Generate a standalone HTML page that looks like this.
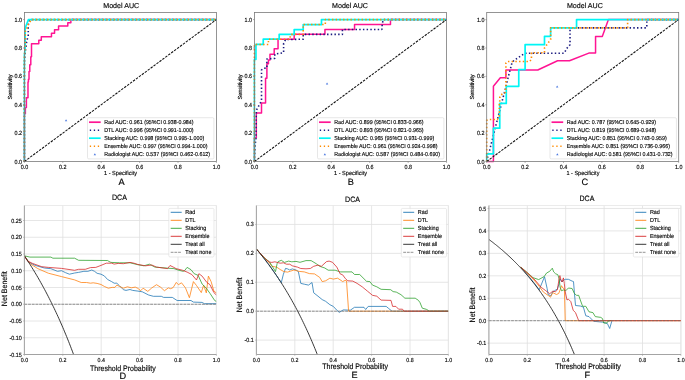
<!DOCTYPE html><html><head><meta charset="utf-8"><style>html,body{margin:0;padding:0;background:#fff;}svg{display:block;will-change:transform;}text{text-rendering:geometricPrecision;font-family:"Liberation Sans", sans-serif;stroke:#000;}</style></head><body>
<svg width="685" height="380" viewBox="0 0 685 380">
<rect width="685" height="380" fill="#fff"/>
<g>
<clipPath id="cA"><rect x="22.9" y="12.5" width="193.5" height="150.5"/></clipPath>
<g clip-path="url(#cA)">
<path d="M24.4,161.5 L24.4,113.82 L25.36,113.82 L25.36,107.58 L26.4,107.58 L26.4,97.64 L27.99,97.64 L27.99,82.04 L28.43,82.04 L28.43,79.2 L29.01,79.2 L29.01,71.54 L29.78,71.54 L29.78,64.72 L30.79,64.72 L30.79,56.78 L31.5,56.78 L31.5,43.72 L38.8,43.72 L38.8,40.18 L41.3,40.18 L41.3,36.63 L51.47,36.63 L51.47,33.36 L54.54,33.36 L54.54,29.67 L58.58,29.67 L58.58,25.99 L67.79,25.99 L67.79,22.86 L70.86,22.86 L70.86,19.6 L216.4,19.6" fill="none" stroke="#ff1493" stroke-width="1.5" stroke-linejoin="round" />
<path d="M24.4,161.5 L24.4,62.17 L24.98,55.07 L25.55,49.54 L26.13,45.85 L26.51,42.59 L27.28,39.18 L28.24,36.34 L28.24,25.28 L29.01,21.02 L29.39,19.6 L216.4,19.6" fill="none" stroke="#1c1c80" stroke-width="1.6" stroke-linejoin="round" stroke-dasharray="1.45 2.25"/>
<path d="M24.4,161.5 L24.4,55.07 L25.17,47.98 L25.17,29.53 L25.94,25.99 L28.43,19.6 L216.4,19.6" fill="none" stroke="#00f5f5" stroke-width="1.7" stroke-linejoin="round" />
<path d="M24.4,161.5 L24.4,55.07 L25.17,47.98 L25.3,31.38 L26.9,28.11 L28.24,24.57 L29.97,21.73 L31.6,19.6 L216.4,19.6" fill="none" stroke="#ff8c00" stroke-width="1.6" stroke-linejoin="round" stroke-dasharray="1.45 2.25"/>
</g>
<line x1="24.4" y1="161.5" x2="216.4" y2="19.6" stroke="#111" stroke-width="1.05" stroke-dasharray="2.5 1.15"/>
<rect x="24.4" y="12.5" width="192" height="149" fill="none" stroke="#7a7a7a" stroke-width="0.8"/>
<path d="M66.06,119.29 l1.2,2 l-2.4,0 z" fill="#4a78e0"/>
<line x1="24.4" y1="161.5" x2="24.4" y2="162.9" stroke="#7a7a7a" stroke-width="0.6"/>
<line x1="23" y1="161.5" x2="24.4" y2="161.5" stroke="#7a7a7a" stroke-width="0.6"/>
<text x="0" y="0" font-size="5.94" text-anchor="middle" fill="#000" stroke-width="0.13" transform="translate(24.4,168.5) scale(0.9091,1)" >0.0</text>
<text x="0" y="0" font-size="5.94" text-anchor="end" fill="#000" stroke-width="0.13" transform="translate(22.1,163.55) scale(0.9091,1)" >0.0</text>
<line x1="62.8" y1="161.5" x2="62.8" y2="162.9" stroke="#7a7a7a" stroke-width="0.6"/>
<line x1="23" y1="133.12" x2="24.4" y2="133.12" stroke="#7a7a7a" stroke-width="0.6"/>
<text x="0" y="0" font-size="5.94" text-anchor="middle" fill="#000" stroke-width="0.13" transform="translate(62.8,168.5) scale(0.9091,1)" >0.2</text>
<text x="0" y="0" font-size="5.94" text-anchor="end" fill="#000" stroke-width="0.13" transform="translate(22.1,135.17) scale(0.9091,1)" >0.2</text>
<line x1="101.2" y1="161.5" x2="101.2" y2="162.9" stroke="#7a7a7a" stroke-width="0.6"/>
<line x1="23" y1="104.74" x2="24.4" y2="104.74" stroke="#7a7a7a" stroke-width="0.6"/>
<text x="0" y="0" font-size="5.94" text-anchor="middle" fill="#000" stroke-width="0.13" transform="translate(101.2,168.5) scale(0.9091,1)" >0.4</text>
<text x="0" y="0" font-size="5.94" text-anchor="end" fill="#000" stroke-width="0.13" transform="translate(22.1,106.79) scale(0.9091,1)" >0.4</text>
<line x1="139.6" y1="161.5" x2="139.6" y2="162.9" stroke="#7a7a7a" stroke-width="0.6"/>
<line x1="23" y1="76.36" x2="24.4" y2="76.36" stroke="#7a7a7a" stroke-width="0.6"/>
<text x="0" y="0" font-size="5.94" text-anchor="middle" fill="#000" stroke-width="0.13" transform="translate(139.6,168.5) scale(0.9091,1)" >0.6</text>
<text x="0" y="0" font-size="5.94" text-anchor="end" fill="#000" stroke-width="0.13" transform="translate(22.1,78.41) scale(0.9091,1)" >0.6</text>
<line x1="178" y1="161.5" x2="178" y2="162.9" stroke="#7a7a7a" stroke-width="0.6"/>
<line x1="23" y1="47.98" x2="24.4" y2="47.98" stroke="#7a7a7a" stroke-width="0.6"/>
<text x="0" y="0" font-size="5.94" text-anchor="middle" fill="#000" stroke-width="0.13" transform="translate(178,168.5) scale(0.9091,1)" >0.8</text>
<text x="0" y="0" font-size="5.94" text-anchor="end" fill="#000" stroke-width="0.13" transform="translate(22.1,50.03) scale(0.9091,1)" >0.8</text>
<line x1="216.4" y1="161.5" x2="216.4" y2="162.9" stroke="#7a7a7a" stroke-width="0.6"/>
<line x1="23" y1="19.6" x2="24.4" y2="19.6" stroke="#7a7a7a" stroke-width="0.6"/>
<text x="0" y="0" font-size="5.94" text-anchor="middle" fill="#000" stroke-width="0.13" transform="translate(216.4,168.5) scale(0.9091,1)" >1.0</text>
<text x="0" y="0" font-size="5.94" text-anchor="end" fill="#000" stroke-width="0.13" transform="translate(22.1,21.65) scale(0.9091,1)" >1.0</text>
<text x="0" y="0" font-size="7.1" text-anchor="middle" fill="#000" stroke-width="0.14" transform="translate(121.2,7.95)" >Model AUC</text>
<text x="0" y="0" font-size="5.83" text-anchor="middle" fill="#000" stroke-width="0.13" transform="translate(120.6,175.4) scale(0.9524,1)" >1 - Specificity</text>
<text x="0" y="0" font-size="5.88" text-anchor="middle" fill="#000" stroke-width="0.13" transform="translate(11.9,87) rotate(-90) scale(0.9524,1)" >Sensitivity</text>
<text x="0" y="0" font-size="9.2" text-anchor="middle" fill="#000" stroke-width="0.14" transform="translate(121.5,184.7)" >A</text>
<rect x="87.5" y="117.7" width="126.4" height="41.2" rx="1.2" fill="#fff" fill-opacity="0.85" stroke="#d6d6d6" stroke-width="0.6"/>
<line x1="89" y1="122.2" x2="100.7" y2="122.2" stroke="#ff1493" stroke-width="1.7"/>
<text x="0" y="0" font-size="5.65" text-anchor="start" fill="#000" stroke-width="0.13" transform="translate(104.2,124.2) scale(0.9434,1)" >Rad AUC: 0.961 (95%CI 0.938-0.984)</text>
<line x1="89" y1="130.2" x2="100.7" y2="130.2" stroke="#1c1c80" stroke-width="1.6" stroke-dasharray="1.3 2.7" stroke-dashoffset="-0.8"/>
<text x="0" y="0" font-size="5.65" text-anchor="start" fill="#000" stroke-width="0.13" transform="translate(104.2,132.2) scale(0.9434,1)" >DTL AUC: 0.996 (95%CI 0.991-1.000)</text>
<line x1="89" y1="138.2" x2="100.7" y2="138.2" stroke="#00f5f5" stroke-width="1.7"/>
<text x="0" y="0" font-size="5.65" text-anchor="start" fill="#000" stroke-width="0.13" transform="translate(104.2,140.2) scale(0.9434,1)" >Stacking AUC: 0.998 (95%CI 0.995-1.000)</text>
<line x1="89" y1="146.2" x2="100.7" y2="146.2" stroke="#ff8c00" stroke-width="1.6" stroke-dasharray="1.3 2.7" stroke-dashoffset="-0.8"/>
<text x="0" y="0" font-size="5.65" text-anchor="start" fill="#000" stroke-width="0.13" transform="translate(104.2,148.2) scale(0.9434,1)" >Ensemble AUC: 0.997 (95%CI 0.994-1.000)</text>
<path d="M94.85,153.2 l1.2,2 l-2.4,0 z" fill="#4a78e0"/>
<text x="0" y="0" font-size="5.65" text-anchor="start" fill="#000" stroke-width="0.13" transform="translate(104.2,156.2) scale(0.9434,1)" >Radiologist AUC: 0.537 (95%CI 0.462-0.612)</text>
</g>
<g>
<clipPath id="cB"><rect x="252.9" y="12.5" width="193.7" height="150.5"/></clipPath>
<g clip-path="url(#cB)">
<path d="M254.4,161.5 L254.4,137.8 L256.32,137.8 L256.32,112.97 L261.51,112.97 L261.51,102.9 L265.55,102.9 L265.55,78.35 L266.89,78.35 L266.89,63.73 L268.43,63.73 L268.43,60.04 L269.97,60.04 L269.97,54.22 L274.2,54.22 L274.2,48.83 L278.04,48.83 L278.04,39.18 L294.19,39.18 L294.19,34.36 L324.94,34.36 L324.94,29.53 L354.54,29.53 L354.54,24.57 L390.48,24.57 L390.48,19.6 L446.6,19.6" fill="none" stroke="#ff1493" stroke-width="1.5" stroke-linejoin="round" />
<path d="M254.4,161.5 L254.98,147.31 L255.94,137.8 L256.32,110.27 L261.51,100.77 L261.51,69.97 L263.24,68.41 L266.89,67.99 L266.89,59.05 L274.77,58.34 L274.77,54.22 L283.61,52.66 L283.61,43.58 L285.54,39.61 L303.22,39.18 L303.22,34.36 L342.43,34.36 L342.43,29.53 L381.83,29.53 L382.21,24.57 L383.17,19.6 L446.6,19.6" fill="none" stroke="#1c1c80" stroke-width="1.6" stroke-linejoin="round" stroke-dasharray="1.45 2.25"/>
<path d="M254.4,161.5 L254.4,59.33 L255.94,59.33 L255.94,44.43 L263.24,44.43 L263.24,39.18 L279.19,39.18 L279.19,34.36 L294.19,34.36 L294.19,29.53 L303.22,29.53 L303.22,24.57 L321.48,24.57 L321.48,19.6 L446.6,19.6" fill="none" stroke="#00f5f5" stroke-width="1.7" stroke-linejoin="round" />
<path d="M254.4,161.5 L254.4,44.43 L268.43,44.43 L268.43,39.18 L289.57,39.18 L290.92,34.36 L303.22,34.36 L303.22,24.57 L325.32,24.57 L325.32,19.6 L446.6,19.6" fill="none" stroke="#ff8c00" stroke-width="1.6" stroke-linejoin="round" stroke-dasharray="1.45 2.25"/>
</g>
<line x1="254.4" y1="161.5" x2="446.6" y2="19.6" stroke="#111" stroke-width="1.05" stroke-dasharray="2.5 1.15"/>
<rect x="254.4" y="12.5" width="192.2" height="149" fill="none" stroke="#7a7a7a" stroke-width="0.8"/>
<path d="M327.05,82.4 l1.2,2 l-2.4,0 z" fill="#4a78e0"/>
<line x1="254.4" y1="161.5" x2="254.4" y2="162.9" stroke="#7a7a7a" stroke-width="0.6"/>
<line x1="253" y1="161.5" x2="254.4" y2="161.5" stroke="#7a7a7a" stroke-width="0.6"/>
<text x="0" y="0" font-size="5.94" text-anchor="middle" fill="#000" stroke-width="0.13" transform="translate(254.4,168.5) scale(0.9091,1)" >0.0</text>
<text x="0" y="0" font-size="5.94" text-anchor="end" fill="#000" stroke-width="0.13" transform="translate(252.1,163.55) scale(0.9091,1)" >0.0</text>
<line x1="292.84" y1="161.5" x2="292.84" y2="162.9" stroke="#7a7a7a" stroke-width="0.6"/>
<line x1="253" y1="133.12" x2="254.4" y2="133.12" stroke="#7a7a7a" stroke-width="0.6"/>
<text x="0" y="0" font-size="5.94" text-anchor="middle" fill="#000" stroke-width="0.13" transform="translate(292.84,168.5) scale(0.9091,1)" >0.2</text>
<text x="0" y="0" font-size="5.94" text-anchor="end" fill="#000" stroke-width="0.13" transform="translate(252.1,135.17) scale(0.9091,1)" >0.2</text>
<line x1="331.28" y1="161.5" x2="331.28" y2="162.9" stroke="#7a7a7a" stroke-width="0.6"/>
<line x1="253" y1="104.74" x2="254.4" y2="104.74" stroke="#7a7a7a" stroke-width="0.6"/>
<text x="0" y="0" font-size="5.94" text-anchor="middle" fill="#000" stroke-width="0.13" transform="translate(331.28,168.5) scale(0.9091,1)" >0.4</text>
<text x="0" y="0" font-size="5.94" text-anchor="end" fill="#000" stroke-width="0.13" transform="translate(252.1,106.79) scale(0.9091,1)" >0.4</text>
<line x1="369.72" y1="161.5" x2="369.72" y2="162.9" stroke="#7a7a7a" stroke-width="0.6"/>
<line x1="253" y1="76.36" x2="254.4" y2="76.36" stroke="#7a7a7a" stroke-width="0.6"/>
<text x="0" y="0" font-size="5.94" text-anchor="middle" fill="#000" stroke-width="0.13" transform="translate(369.72,168.5) scale(0.9091,1)" >0.6</text>
<text x="0" y="0" font-size="5.94" text-anchor="end" fill="#000" stroke-width="0.13" transform="translate(252.1,78.41) scale(0.9091,1)" >0.6</text>
<line x1="408.16" y1="161.5" x2="408.16" y2="162.9" stroke="#7a7a7a" stroke-width="0.6"/>
<line x1="253" y1="47.98" x2="254.4" y2="47.98" stroke="#7a7a7a" stroke-width="0.6"/>
<text x="0" y="0" font-size="5.94" text-anchor="middle" fill="#000" stroke-width="0.13" transform="translate(408.16,168.5) scale(0.9091,1)" >0.8</text>
<text x="0" y="0" font-size="5.94" text-anchor="end" fill="#000" stroke-width="0.13" transform="translate(252.1,50.03) scale(0.9091,1)" >0.8</text>
<line x1="446.6" y1="161.5" x2="446.6" y2="162.9" stroke="#7a7a7a" stroke-width="0.6"/>
<line x1="253" y1="19.6" x2="254.4" y2="19.6" stroke="#7a7a7a" stroke-width="0.6"/>
<text x="0" y="0" font-size="5.94" text-anchor="middle" fill="#000" stroke-width="0.13" transform="translate(446.6,168.5) scale(0.9091,1)" >1.0</text>
<text x="0" y="0" font-size="5.94" text-anchor="end" fill="#000" stroke-width="0.13" transform="translate(252.1,21.65) scale(0.9091,1)" >1.0</text>
<text x="0" y="0" font-size="7.1" text-anchor="middle" fill="#000" stroke-width="0.14" transform="translate(350,7.95)" >Model AUC</text>
<text x="0" y="0" font-size="5.83" text-anchor="middle" fill="#000" stroke-width="0.13" transform="translate(350.6,175.4) scale(0.9524,1)" >1 - Specificity</text>
<text x="0" y="0" font-size="5.88" text-anchor="middle" fill="#000" stroke-width="0.13" transform="translate(241.9,87) rotate(-90) scale(0.9524,1)" >Sensitivity</text>
<text x="0" y="0" font-size="9.2" text-anchor="middle" fill="#000" stroke-width="0.14" transform="translate(350.7,184.7)" >B</text>
<rect x="317.5" y="117.7" width="126.4" height="41.2" rx="1.2" fill="#fff" fill-opacity="0.85" stroke="#d6d6d6" stroke-width="0.6"/>
<line x1="319" y1="122.2" x2="330.7" y2="122.2" stroke="#ff1493" stroke-width="1.7"/>
<text x="0" y="0" font-size="5.65" text-anchor="start" fill="#000" stroke-width="0.13" transform="translate(334.2,124.2) scale(0.9434,1)" >Rad AUC: 0.899 (95%CI 0.833-0.966)</text>
<line x1="319" y1="130.2" x2="330.7" y2="130.2" stroke="#1c1c80" stroke-width="1.6" stroke-dasharray="1.3 2.7" stroke-dashoffset="-0.8"/>
<text x="0" y="0" font-size="5.65" text-anchor="start" fill="#000" stroke-width="0.13" transform="translate(334.2,132.2) scale(0.9434,1)" >DTL AUC: 0.893 (95%CI 0.821-0.965)</text>
<line x1="319" y1="138.2" x2="330.7" y2="138.2" stroke="#00f5f5" stroke-width="1.7"/>
<text x="0" y="0" font-size="5.65" text-anchor="start" fill="#000" stroke-width="0.13" transform="translate(334.2,140.2) scale(0.9434,1)" >Stacking AUC: 0.965 (95%CI 0.931-0.999)</text>
<line x1="319" y1="146.2" x2="330.7" y2="146.2" stroke="#ff8c00" stroke-width="1.6" stroke-dasharray="1.3 2.7" stroke-dashoffset="-0.8"/>
<text x="0" y="0" font-size="5.65" text-anchor="start" fill="#000" stroke-width="0.13" transform="translate(334.2,148.2) scale(0.9434,1)" >Ensemble AUC: 0.961 (95%CI 0.924-0.998)</text>
<path d="M324.85,153.2 l1.2,2 l-2.4,0 z" fill="#4a78e0"/>
<text x="0" y="0" font-size="5.65" text-anchor="start" fill="#000" stroke-width="0.13" transform="translate(334.2,156.2) scale(0.9434,1)" >Radiologist AUC: 0.587 (95%CI 0.484-0.690)</text>
</g>
<g>
<clipPath id="cC"><rect x="485.2" y="12.5" width="193.5" height="150.5"/></clipPath>
<g clip-path="url(#cC)">
<path d="M486.7,161.5 L493.42,161.5 L493.42,86.29 L500.33,77.78 L505.9,77.78 L505.9,69.97 L537.77,69.97 L557.55,60.75 L569.45,60.75 L588.84,53.09 L595.56,53.09 L595.56,36.49 L602.28,36.49 L608.43,19.6 L678.7,19.6" fill="none" stroke="#ff1493" stroke-width="1.5" stroke-linejoin="round" />
<path d="M486.7,161.5 L487.47,157.95 L489.58,150.43 L492.27,139.65 L496.68,122.34 L497.64,118.65 L500.33,108.15 L503.02,97.64 L504.94,90.83 L508.4,76.36 L510.32,69.26 L512.04,62.45 L514.73,59.76 L518,57.91 L520.68,55.93 L523.76,53.94 L525.1,53.23 L564.08,53.23 L567.53,47.41 L570.03,44.72 L570.03,27.83 L646.83,27.83 L646.83,19.6 L678.7,19.6" fill="none" stroke="#1c1c80" stroke-width="1.6" stroke-linejoin="round" stroke-dasharray="1.45 2.25"/>
<path d="M486.7,161.5 L486.7,153.84 L493.42,153.84 L493.42,128.15 L499.76,128.15 L499.76,103.46 L506.28,103.46 L506.28,86.29 L518.76,86.29 L518.76,69.55 L525.1,69.55 L525.1,44.72 L544.49,44.72 L544.49,36.34 L550.64,36.34 L550.64,27.83 L576.56,27.83 L576.56,19.6 L678.7,19.6" fill="none" stroke="#00f5f5" stroke-width="1.7" stroke-linejoin="round" />
<path d="M486.7,161.5 L486.7,120.35 L489.2,119.5 L497.26,119.5 L499.3,116.52 L499.3,104.03 L499.76,100.77 L499.76,97.64 L500.72,94.95 L505.52,92.39 L505.9,85.44 L505.9,63.02 L507.63,61.46 L529.71,61.46 L531.44,59.33 L531.44,52.8 L544.49,52.8 L544.49,47.98 L550.64,39.47 L550.64,27.83 L627.63,27.83 L627.63,19.6 L678.7,19.6" fill="none" stroke="#ff8c00" stroke-width="1.6" stroke-linejoin="round" stroke-dasharray="1.45 2.25"/>
</g>
<line x1="486.7" y1="161.5" x2="678.7" y2="19.6" stroke="#111" stroke-width="1.05" stroke-dasharray="2.5 1.15"/>
<rect x="486.7" y="12.5" width="192" height="149" fill="none" stroke="#7a7a7a" stroke-width="0.8"/>
<path d="M557.16,85.52 l1.2,2 l-2.4,0 z" fill="#4a78e0"/>
<line x1="486.7" y1="161.5" x2="486.7" y2="162.9" stroke="#7a7a7a" stroke-width="0.6"/>
<line x1="485.3" y1="161.5" x2="486.7" y2="161.5" stroke="#7a7a7a" stroke-width="0.6"/>
<text x="0" y="0" font-size="5.94" text-anchor="middle" fill="#000" stroke-width="0.13" transform="translate(486.7,168.5) scale(0.9091,1)" >0.0</text>
<text x="0" y="0" font-size="5.94" text-anchor="end" fill="#000" stroke-width="0.13" transform="translate(484.4,163.55) scale(0.9091,1)" >0.0</text>
<line x1="525.1" y1="161.5" x2="525.1" y2="162.9" stroke="#7a7a7a" stroke-width="0.6"/>
<line x1="485.3" y1="133.12" x2="486.7" y2="133.12" stroke="#7a7a7a" stroke-width="0.6"/>
<text x="0" y="0" font-size="5.94" text-anchor="middle" fill="#000" stroke-width="0.13" transform="translate(525.1,168.5) scale(0.9091,1)" >0.2</text>
<text x="0" y="0" font-size="5.94" text-anchor="end" fill="#000" stroke-width="0.13" transform="translate(484.4,135.17) scale(0.9091,1)" >0.2</text>
<line x1="563.5" y1="161.5" x2="563.5" y2="162.9" stroke="#7a7a7a" stroke-width="0.6"/>
<line x1="485.3" y1="104.74" x2="486.7" y2="104.74" stroke="#7a7a7a" stroke-width="0.6"/>
<text x="0" y="0" font-size="5.94" text-anchor="middle" fill="#000" stroke-width="0.13" transform="translate(563.5,168.5) scale(0.9091,1)" >0.4</text>
<text x="0" y="0" font-size="5.94" text-anchor="end" fill="#000" stroke-width="0.13" transform="translate(484.4,106.79) scale(0.9091,1)" >0.4</text>
<line x1="601.9" y1="161.5" x2="601.9" y2="162.9" stroke="#7a7a7a" stroke-width="0.6"/>
<line x1="485.3" y1="76.36" x2="486.7" y2="76.36" stroke="#7a7a7a" stroke-width="0.6"/>
<text x="0" y="0" font-size="5.94" text-anchor="middle" fill="#000" stroke-width="0.13" transform="translate(601.9,168.5) scale(0.9091,1)" >0.6</text>
<text x="0" y="0" font-size="5.94" text-anchor="end" fill="#000" stroke-width="0.13" transform="translate(484.4,78.41) scale(0.9091,1)" >0.6</text>
<line x1="640.3" y1="161.5" x2="640.3" y2="162.9" stroke="#7a7a7a" stroke-width="0.6"/>
<line x1="485.3" y1="47.98" x2="486.7" y2="47.98" stroke="#7a7a7a" stroke-width="0.6"/>
<text x="0" y="0" font-size="5.94" text-anchor="middle" fill="#000" stroke-width="0.13" transform="translate(640.3,168.5) scale(0.9091,1)" >0.8</text>
<text x="0" y="0" font-size="5.94" text-anchor="end" fill="#000" stroke-width="0.13" transform="translate(484.4,50.03) scale(0.9091,1)" >0.8</text>
<line x1="678.7" y1="161.5" x2="678.7" y2="162.9" stroke="#7a7a7a" stroke-width="0.6"/>
<line x1="485.3" y1="19.6" x2="486.7" y2="19.6" stroke="#7a7a7a" stroke-width="0.6"/>
<text x="0" y="0" font-size="5.94" text-anchor="middle" fill="#000" stroke-width="0.13" transform="translate(678.7,168.5) scale(0.9091,1)" >1.0</text>
<text x="0" y="0" font-size="5.94" text-anchor="end" fill="#000" stroke-width="0.13" transform="translate(484.4,21.65) scale(0.9091,1)" >1.0</text>
<text x="0" y="0" font-size="7.1" text-anchor="middle" fill="#000" stroke-width="0.14" transform="translate(584.9,7.95)" >Model AUC</text>
<text x="0" y="0" font-size="5.83" text-anchor="middle" fill="#000" stroke-width="0.13" transform="translate(582.9,175.4) scale(0.9524,1)" >1 - Specificity</text>
<text x="0" y="0" font-size="5.88" text-anchor="middle" fill="#000" stroke-width="0.13" transform="translate(474.2,87) rotate(-90) scale(0.9524,1)" >Sensitivity</text>
<text x="0" y="0" font-size="9.2" text-anchor="middle" fill="#000" stroke-width="0.14" transform="translate(584.9,184.7)" >C</text>
<rect x="550" y="117.7" width="126.4" height="41.2" rx="1.2" fill="#fff" fill-opacity="0.85" stroke="#d6d6d6" stroke-width="0.6"/>
<line x1="551.5" y1="122.2" x2="563.2" y2="122.2" stroke="#ff1493" stroke-width="1.7"/>
<text x="0" y="0" font-size="5.65" text-anchor="start" fill="#000" stroke-width="0.13" transform="translate(566.7,124.2) scale(0.9434,1)" >Rad AUC: 0.787 (95%CI 0.645-0.929)</text>
<line x1="551.5" y1="130.2" x2="563.2" y2="130.2" stroke="#1c1c80" stroke-width="1.6" stroke-dasharray="1.3 2.7" stroke-dashoffset="-0.8"/>
<text x="0" y="0" font-size="5.65" text-anchor="start" fill="#000" stroke-width="0.13" transform="translate(566.7,132.2) scale(0.9434,1)" >DTL AUC: 0.819 (95%CI 0.689-0.948)</text>
<line x1="551.5" y1="138.2" x2="563.2" y2="138.2" stroke="#00f5f5" stroke-width="1.7"/>
<text x="0" y="0" font-size="5.65" text-anchor="start" fill="#000" stroke-width="0.13" transform="translate(566.7,140.2) scale(0.9434,1)" >Stacking AUC: 0.851 (95%CI 0.743-0.959)</text>
<line x1="551.5" y1="146.2" x2="563.2" y2="146.2" stroke="#ff8c00" stroke-width="1.6" stroke-dasharray="1.3 2.7" stroke-dashoffset="-0.8"/>
<text x="0" y="0" font-size="5.65" text-anchor="start" fill="#000" stroke-width="0.13" transform="translate(566.7,148.2) scale(0.9434,1)" >Ensemble AUC: 0.851 (95%CI 0.736-0.966)</text>
<path d="M557.35,153.2 l1.2,2 l-2.4,0 z" fill="#4a78e0"/>
<text x="0" y="0" font-size="5.65" text-anchor="start" fill="#000" stroke-width="0.13" transform="translate(566.7,156.2) scale(0.9434,1)" >Radiologist AUC: 0.581 (95%CI 0.431-0.732)</text>
</g>
<g>
<clipPath id="cD"><rect x="24.4" y="205.5" width="192" height="149"/></clipPath>
<line x1="24.4" y1="205.5" x2="24.4" y2="354.5" stroke="#dfdfdf" stroke-width="0.8"/>
<line x1="62.8" y1="205.5" x2="62.8" y2="354.5" stroke="#dfdfdf" stroke-width="0.8"/>
<line x1="101.2" y1="205.5" x2="101.2" y2="354.5" stroke="#dfdfdf" stroke-width="0.8"/>
<line x1="139.6" y1="205.5" x2="139.6" y2="354.5" stroke="#dfdfdf" stroke-width="0.8"/>
<line x1="178" y1="205.5" x2="178" y2="354.5" stroke="#dfdfdf" stroke-width="0.8"/>
<line x1="216.4" y1="205.5" x2="216.4" y2="354.5" stroke="#dfdfdf" stroke-width="0.8"/>
<line x1="24.4" y1="354.5" x2="216.4" y2="354.5" stroke="#dfdfdf" stroke-width="0.8"/>
<line x1="24.4" y1="337.75" x2="216.4" y2="337.75" stroke="#dfdfdf" stroke-width="0.8"/>
<line x1="24.4" y1="321" x2="216.4" y2="321" stroke="#dfdfdf" stroke-width="0.8"/>
<line x1="24.4" y1="304.25" x2="216.4" y2="304.25" stroke="#dfdfdf" stroke-width="0.8"/>
<line x1="24.4" y1="287.5" x2="216.4" y2="287.5" stroke="#dfdfdf" stroke-width="0.8"/>
<line x1="24.4" y1="270.75" x2="216.4" y2="270.75" stroke="#dfdfdf" stroke-width="0.8"/>
<line x1="24.4" y1="254" x2="216.4" y2="254" stroke="#dfdfdf" stroke-width="0.8"/>
<line x1="24.4" y1="237.25" x2="216.4" y2="237.25" stroke="#dfdfdf" stroke-width="0.8"/>
<line x1="24.4" y1="220.5" x2="216.4" y2="220.5" stroke="#dfdfdf" stroke-width="0.8"/>
<path d="M24.4,205.5 L216.4,205.5 L216.4,354.5" fill="none" stroke="#e6e6e6" stroke-width="0.8"/>
<g clip-path="url(#cD)">
<path d="M24.4,255.8 L28.6,262.1 L35.2,265.4 L44.4,268 L50.9,268.7 L57.5,271.3 L61.5,270.7 L65.4,272.6 L69.4,274.2 L74.6,273 L78.6,272.4 L83.9,271.3 L87.9,271.3 L91.8,270 L94.5,271.3 L97.1,273.3 L101,274.2 L104.3,275.9 L107.6,279.5 L111.6,281.6 L114.2,283.2 L116.8,283.2 L119.5,285.8 L123.4,289.7 L126,290.4 L130,289.5 L132.6,290.4 L137.9,291.1 L142.3,291.8 L148.6,295 L153.4,296.3 L161.3,296.3 L163.6,297.4 L172.3,297.4 L177.1,300.5 L191,300.5 L193.4,302.1 L202.1,302.4 L204.4,303.7 L216.4,303.7" fill="none" stroke="#1f77b4" stroke-width="0.78" stroke-linejoin="round" />
<path d="M24.4,255.8 L29.9,263.6 L37.8,268.6 L48.3,273.2 L61.5,276.6 L74.6,279.9 L81.2,282.5 L86.6,282.5 L90.5,283.2 L93.2,282.8 L97.1,283.4 L101,284.5 L104.3,286.4 L108.3,288.2 L112.2,287.4 L114.9,287.4 L116.8,285.1 L119.5,286.4 L123.4,288.2 L127.4,286.8 L131.3,287.8 L135.3,287.1 L137.9,288.4 L140.7,290.7 L143.1,288.2 L147.8,291.4 L151.8,287.9 L156.5,284.7 L160.5,287.1 L164.4,290.7 L168.4,287.9 L170.7,288.7 L173.1,287.6 L176.3,282.4 L178.4,284.7 L181.5,282.8 L185.5,287.9 L189.4,297.7 L193.4,281.6 L196.5,285.5 L201.3,292.6 L203.6,285.1 L206.3,292.9 L208.4,276.1 L211.1,281.6 L213.9,291.1 L216.4,293" fill="none" stroke="#ff7f0e" stroke-width="0.78" stroke-linejoin="round" />
<path d="M24.4,255.8 L29.9,257.1 L50.9,257.1 L52.9,258.2 L74.6,258.2 L78.6,260.3 L107.6,260.5 L108.9,261.4 L110.9,262.4 L119.5,262.8 L130,262.8 L137.9,264.7 L143.9,265.8 L149.4,264.2 L154.9,267.1 L167.6,268.2 L173.9,268.6 L178,270 L183.1,271.3 L184.7,270.5 L187.1,267.4 L191,269.7 L194.2,273.7 L198.1,275.3 L202.1,284 L206,287.9 L210,293.4 L214.7,300.5 L216.4,301.5" fill="none" stroke="#2ca02c" stroke-width="0.78" stroke-linejoin="round" />
<path d="M24.4,255.8 L27.3,260.8 L32.5,263.4 L41.7,266.7 L48.3,267.4 L61.5,268.4 L74.6,270.3 L78.6,269.3 L85.3,269.3 L90.5,267.6 L95.8,267.4 L101,265.4 L106.3,263.2 L111.6,263.2 L114.2,264.1 L118.2,263.4 L123.4,263.7 L130,262.4 L134,263.2 L137.9,264.5 L145.5,265.8 L151.8,265 L156.5,267.1 L167.6,268.6 L170,265.5 L173.9,267.4 L176,268.6 L182.3,270.2 L187.1,272.1 L191.8,274.5 L196.5,280 L198.9,273.7 L202.1,276.1 L206.8,282.4 L210,284.7 L213.9,292.6 L216.4,295" fill="none" stroke="#d62728" stroke-width="0.78" stroke-linejoin="round" />
<path d="M24.4,255.81 L25.36,257.25 L26.32,258.7 L27.28,260.17 L28.24,261.65 L29.2,263.15 L30.15,264.66 L31.11,266.19 L32.07,267.74 L33.03,269.3 L33.99,270.88 L34.95,272.47 L35.91,274.08 L36.87,275.71 L37.83,277.35 L38.79,279.02 L39.74,280.7 L40.7,282.4 L41.66,284.12 L42.62,285.86 L43.58,287.61 L44.54,289.39 L45.5,291.19 L46.46,293 L47.42,294.84 L48.38,296.7 L49.34,298.58 L50.29,300.48 L51.25,302.4 L52.21,304.35 L53.17,306.32 L54.13,308.31 L55.09,310.33 L56.05,312.37 L57.01,314.43 L57.97,316.52 L58.93,318.64 L59.88,320.78 L60.84,322.94 L61.8,325.14 L62.76,327.36 L63.72,329.61 L64.68,331.89 L65.64,334.19 L66.6,336.53 L67.56,338.9 L68.52,341.29 L69.47,343.72 L70.43,346.18 L71.39,348.68 L72.35,351.2 L73.31,353.76 L74.27,356.36 L75.23,358.99" fill="none" stroke="#222" stroke-width="0.9" stroke-linejoin="round" />
<line x1="24.4" y1="304.25" x2="216.4" y2="304.25" stroke="#666" stroke-width="0.7" stroke-dasharray="2.8 0.9"/>
</g>
<path d="M24.4,205.5 L24.4,354.5 L216.4,354.5" fill="none" stroke="#9a9a9a" stroke-width="0.9"/>
<line x1="24.4" y1="354.5" x2="24.4" y2="355.8" stroke="#9a9a9a" stroke-width="0.6"/>
<text x="0" y="0" font-size="5.83" text-anchor="middle" fill="#000" stroke-width="0.13" transform="translate(24.4,361.5) scale(0.9091,1)" >0.0</text>
<line x1="62.8" y1="354.5" x2="62.8" y2="355.8" stroke="#9a9a9a" stroke-width="0.6"/>
<text x="0" y="0" font-size="5.83" text-anchor="middle" fill="#000" stroke-width="0.13" transform="translate(62.8,361.5) scale(0.9091,1)" >0.2</text>
<line x1="101.2" y1="354.5" x2="101.2" y2="355.8" stroke="#9a9a9a" stroke-width="0.6"/>
<text x="0" y="0" font-size="5.83" text-anchor="middle" fill="#000" stroke-width="0.13" transform="translate(101.2,361.5) scale(0.9091,1)" >0.4</text>
<line x1="139.6" y1="354.5" x2="139.6" y2="355.8" stroke="#9a9a9a" stroke-width="0.6"/>
<text x="0" y="0" font-size="5.83" text-anchor="middle" fill="#000" stroke-width="0.13" transform="translate(139.6,361.5) scale(0.9091,1)" >0.6</text>
<line x1="178" y1="354.5" x2="178" y2="355.8" stroke="#9a9a9a" stroke-width="0.6"/>
<text x="0" y="0" font-size="5.83" text-anchor="middle" fill="#000" stroke-width="0.13" transform="translate(178,361.5) scale(0.9091,1)" >0.8</text>
<line x1="216.4" y1="354.5" x2="216.4" y2="355.8" stroke="#9a9a9a" stroke-width="0.6"/>
<text x="0" y="0" font-size="5.83" text-anchor="middle" fill="#000" stroke-width="0.13" transform="translate(216.4,361.5) scale(0.9091,1)" >1.0</text>
<line x1="23.1" y1="354.5" x2="24.4" y2="354.5" stroke="#9a9a9a" stroke-width="0.6"/>
<text x="0" y="0" font-size="5.94" text-anchor="end" fill="#000" stroke-width="0.13" transform="translate(21.8,356.55) scale(0.9091,1)" >-0.15</text>
<line x1="23.1" y1="337.75" x2="24.4" y2="337.75" stroke="#9a9a9a" stroke-width="0.6"/>
<text x="0" y="0" font-size="5.94" text-anchor="end" fill="#000" stroke-width="0.13" transform="translate(21.8,339.8) scale(0.9091,1)" >-0.10</text>
<line x1="23.1" y1="321" x2="24.4" y2="321" stroke="#9a9a9a" stroke-width="0.6"/>
<text x="0" y="0" font-size="5.94" text-anchor="end" fill="#000" stroke-width="0.13" transform="translate(21.8,323.05) scale(0.9091,1)" >-0.05</text>
<line x1="23.1" y1="304.25" x2="24.4" y2="304.25" stroke="#9a9a9a" stroke-width="0.6"/>
<text x="0" y="0" font-size="5.94" text-anchor="end" fill="#000" stroke-width="0.13" transform="translate(21.8,306.3) scale(0.9091,1)" >0.00</text>
<line x1="23.1" y1="287.5" x2="24.4" y2="287.5" stroke="#9a9a9a" stroke-width="0.6"/>
<text x="0" y="0" font-size="5.94" text-anchor="end" fill="#000" stroke-width="0.13" transform="translate(21.8,289.55) scale(0.9091,1)" >0.05</text>
<line x1="23.1" y1="270.75" x2="24.4" y2="270.75" stroke="#9a9a9a" stroke-width="0.6"/>
<text x="0" y="0" font-size="5.94" text-anchor="end" fill="#000" stroke-width="0.13" transform="translate(21.8,272.8) scale(0.9091,1)" >0.10</text>
<line x1="23.1" y1="254" x2="24.4" y2="254" stroke="#9a9a9a" stroke-width="0.6"/>
<text x="0" y="0" font-size="5.94" text-anchor="end" fill="#000" stroke-width="0.13" transform="translate(21.8,256.05) scale(0.9091,1)" >0.15</text>
<line x1="23.1" y1="237.25" x2="24.4" y2="237.25" stroke="#9a9a9a" stroke-width="0.6"/>
<text x="0" y="0" font-size="5.94" text-anchor="end" fill="#000" stroke-width="0.13" transform="translate(21.8,239.3) scale(0.9091,1)" >0.20</text>
<line x1="23.1" y1="220.5" x2="24.4" y2="220.5" stroke="#9a9a9a" stroke-width="0.6"/>
<text x="0" y="0" font-size="5.94" text-anchor="end" fill="#000" stroke-width="0.13" transform="translate(21.8,222.55) scale(0.9091,1)" >0.25</text>
<text x="0" y="0" font-size="7.76" text-anchor="middle" fill="#000" stroke-width="0.14" transform="translate(119.4,199.9) scale(0.9091,1)" >DCA</text>
<text x="0" y="0" font-size="7.84" text-anchor="middle" fill="#000" stroke-width="0.14" transform="translate(122.9,370.5) scale(0.8929,1)" >Threshold Probability</text>
<text x="0" y="0" font-size="7.9" text-anchor="middle" fill="#000" stroke-width="0.14" transform="translate(7,288.7) rotate(-90) scale(0.8929,1)" >Net Benefit</text>
<text x="0" y="0" font-size="9.2" text-anchor="middle" fill="#000" stroke-width="0.14" transform="translate(122.8,378.5)" >D</text>
<rect x="168.8" y="208.4" width="45.2" height="48.6" rx="1.2" fill="#fff" fill-opacity="0.85" stroke="#dcdcdc" stroke-width="0.6"/>
<line x1="170.7" y1="212.3" x2="181.7" y2="212.3" stroke="#1f77b4" stroke-width="0.9" />
<text x="0" y="0" font-size="5.89" text-anchor="start" fill="#000" stroke-width="0.13" transform="translate(185.3,214.3) scale(0.9259,1)" >Rad</text>
<line x1="170.7" y1="220.3" x2="181.7" y2="220.3" stroke="#ff7f0e" stroke-width="0.9" />
<text x="0" y="0" font-size="5.89" text-anchor="start" fill="#000" stroke-width="0.13" transform="translate(185.3,222.3) scale(0.9259,1)" >DTL</text>
<line x1="170.7" y1="228.3" x2="181.7" y2="228.3" stroke="#2ca02c" stroke-width="0.9" />
<text x="0" y="0" font-size="5.89" text-anchor="start" fill="#000" stroke-width="0.13" transform="translate(185.3,230.3) scale(0.9259,1)" >Stacking</text>
<line x1="170.7" y1="236.3" x2="181.7" y2="236.3" stroke="#d62728" stroke-width="0.9" />
<text x="0" y="0" font-size="5.89" text-anchor="start" fill="#000" stroke-width="0.13" transform="translate(185.3,238.3) scale(0.9259,1)" >Ensemble</text>
<line x1="170.7" y1="244.3" x2="181.7" y2="244.3" stroke="#222" stroke-width="0.9" />
<text x="0" y="0" font-size="5.89" text-anchor="start" fill="#000" stroke-width="0.13" transform="translate(185.3,246.3) scale(0.9259,1)" >Treat all</text>
<line x1="170.7" y1="252.3" x2="181.7" y2="252.3" stroke="#888" stroke-width="0.9" stroke-dasharray="2.8 0.9"/>
<text x="0" y="0" font-size="5.89" text-anchor="start" fill="#000" stroke-width="0.13" transform="translate(185.3,254.3) scale(0.9259,1)" >Treat none</text>
</g>
<g>
<clipPath id="cE"><rect x="256.4" y="205.5" width="192" height="149"/></clipPath>
<line x1="256.4" y1="205.5" x2="256.4" y2="354.5" stroke="#dfdfdf" stroke-width="0.8"/>
<line x1="294.8" y1="205.5" x2="294.8" y2="354.5" stroke="#dfdfdf" stroke-width="0.8"/>
<line x1="333.2" y1="205.5" x2="333.2" y2="354.5" stroke="#dfdfdf" stroke-width="0.8"/>
<line x1="371.6" y1="205.5" x2="371.6" y2="354.5" stroke="#dfdfdf" stroke-width="0.8"/>
<line x1="410" y1="205.5" x2="410" y2="354.5" stroke="#dfdfdf" stroke-width="0.8"/>
<line x1="448.4" y1="205.5" x2="448.4" y2="354.5" stroke="#dfdfdf" stroke-width="0.8"/>
<line x1="256.4" y1="340.12" x2="448.4" y2="340.12" stroke="#dfdfdf" stroke-width="0.8"/>
<line x1="256.4" y1="311.2" x2="448.4" y2="311.2" stroke="#dfdfdf" stroke-width="0.8"/>
<line x1="256.4" y1="282.27" x2="448.4" y2="282.27" stroke="#dfdfdf" stroke-width="0.8"/>
<line x1="256.4" y1="253.35" x2="448.4" y2="253.35" stroke="#dfdfdf" stroke-width="0.8"/>
<line x1="256.4" y1="224.43" x2="448.4" y2="224.43" stroke="#dfdfdf" stroke-width="0.8"/>
<path d="M256.4,205.5 L448.4,205.5 L448.4,354.5" fill="none" stroke="#e6e6e6" stroke-width="0.8"/>
<g clip-path="url(#cE)">
<path d="M256.4,249.01 L257.36,250.15 L258.32,251.3 L259.28,252.47 L260.24,253.64 L261.2,254.83 L262.15,256.03 L263.11,257.24 L264.07,258.46 L265.03,259.7 L265.99,260.95 L266.95,262.21 L267.91,263.49 L268.87,264.78 L269.83,266.08 L270.79,267.4 L271.74,268.73 L272.7,270.08 L273.66,271.44 L274.62,272.82 L275.58,274.21 L276.54,275.62 L277.5,277.04 L278.46,278.48 L279.42,279.94 L280.38,281.41 L281.3,282.6 L283.4,274.2 L285.5,268.4 L287.6,268.9 L289.7,270 L292.3,268.9 L296,270 L298.3,271.4 L300.8,283.4 L304.3,284.2 L308.5,285.1 L312,282.5 L313.7,292.8 L318,296.2 L322.2,299.6 L325.6,301.3 L329.9,304.7 L333.3,306.4 L336.8,310.2 L339.3,312.4 L341.9,310.7 L343.4,309.9 L350.3,310.2 L354.5,307.3 L364,307.3 L365.7,309.5 L368.2,306.4 L386.2,306.4 L388.8,308.6 L392,311.2 L448.4,311.2" fill="none" stroke="#1f77b4" stroke-width="0.78" stroke-linejoin="round" />
<path d="M256.4,249.1 L264.4,257.9 L269.7,263.2 L271.8,266.3 L274.9,266.8 L277.1,267.4 L280.2,269.5 L283.9,271.6 L287.6,272.1 L290.7,271.1 L293.9,270 L299.1,271.4 L304.3,271.9 L309.4,273.6 L314.5,273.9 L319.7,277.4 L322.2,281.6 L325.6,280.8 L329.9,278.2 L333.3,279.1 L337.6,278.2 L341,280.4 L342.6,281.6 L345.1,280.4 L346.5,280.8 L348.6,311.2 L448.4,311.2" fill="none" stroke="#ff7f0e" stroke-width="0.78" stroke-linejoin="round" />
<path d="M256.4,249.1 L264.4,257.9 L269.7,262.1 L275.5,271.6 L277.1,263.7 L278.1,261.6 L281.3,260.3 L284.4,262.4 L288.6,261.1 L291.8,261.8 L296,261.4 L300,262.3 L306,260.6 L311.1,260.6 L316.2,263.7 L319.7,266.3 L324.8,268 L328.2,270.2 L335.1,270.2 L340.2,271.9 L352,271.9 L354.5,274.5 L359.7,274.5 L366.5,281.3 L369.9,281.6 L372.5,285.1 L376.8,286.8 L381.1,289.3 L390.7,289.7 L393.1,291.6 L396.3,292.1 L401,294.7 L404.9,298.2 L415.2,298.2 L418.4,300.3 L420,302.6 L422.3,308.2 L426.3,309.3 L428.6,310.6 L429.5,311.2 L448.4,311.2" fill="none" stroke="#2ca02c" stroke-width="0.78" stroke-linejoin="round" />
<path d="M256.4,249.1 L264.4,257.9 L266.5,260 L269.7,262.1 L271.8,262.4 L274.9,261.8 L277.1,262.4 L280.2,263.2 L283.4,262.8 L286.5,264.2 L289.7,264.2 L292.3,265.8 L295,266.5 L297.4,267.1 L300.8,268.5 L306,268.8 L310.3,268.5 L313.7,266.3 L318,265.1 L321.4,266.3 L326.5,261.6 L329.1,261.1 L332.5,262.3 L336.8,267.1 L340.2,273.9 L342.6,274.8 L345.1,278.2 L347.7,280.8 L352.8,281.1 L357.1,283.4 L362.2,286.8 L367.4,291.1 L372.5,295.3 L376.8,296.2 L381.1,300.1 L391,300.4 L392.6,306.4 L395.9,306.4 L398.6,309.2 L402.5,309.2 L404.1,311.2 L448.4,311.2" fill="none" stroke="#d62728" stroke-width="0.78" stroke-linejoin="round" />
<path d="M256.4,249.01 L257.36,250.15 L258.32,251.3 L259.28,252.47 L260.24,253.64 L261.2,254.83 L262.15,256.03 L263.11,257.24 L264.07,258.46 L265.03,259.7 L265.99,260.95 L266.95,262.21 L267.91,263.49 L268.87,264.78 L269.83,266.08 L270.79,267.4 L271.74,268.73 L272.7,270.08 L273.66,271.44 L274.62,272.82 L275.58,274.21 L276.54,275.62 L277.5,277.04 L278.46,278.48 L279.42,279.94 L280.38,281.41 L281.34,282.9 L282.29,284.41 L283.25,285.93 L284.21,287.47 L285.17,289.03 L286.13,290.61 L287.09,292.21 L288.05,293.83 L289.01,295.46 L289.97,297.12 L290.93,298.79 L291.88,300.49 L292.84,302.21 L293.8,303.95 L294.76,305.71 L295.72,307.49 L296.68,309.29 L297.64,311.12 L298.6,312.97 L299.56,314.85 L300.52,316.75 L301.47,318.67 L302.43,320.62 L303.39,322.6 L304.35,324.6 L305.31,326.63 L306.27,328.68 L307.23,330.77 L308.19,332.88 L309.15,335.02 L310.11,337.19 L311.07,339.39 L312.02,341.62 L312.98,343.89 L313.94,346.18 L314.9,348.51 L315.86,350.88 L316.82,353.27 L317.78,355.71 L318.74,358.18" fill="none" stroke="#222" stroke-width="0.9" stroke-linejoin="round" />
<line x1="256.4" y1="311.2" x2="448.4" y2="311.2" stroke="#666" stroke-width="0.7" stroke-dasharray="2.8 0.9"/>
</g>
<path d="M256.4,205.5 L256.4,354.5 L448.4,354.5" fill="none" stroke="#9a9a9a" stroke-width="0.9"/>
<line x1="256.4" y1="354.5" x2="256.4" y2="355.8" stroke="#9a9a9a" stroke-width="0.6"/>
<text x="0" y="0" font-size="5.83" text-anchor="middle" fill="#000" stroke-width="0.13" transform="translate(256.4,361.5) scale(0.9091,1)" >0.0</text>
<line x1="294.8" y1="354.5" x2="294.8" y2="355.8" stroke="#9a9a9a" stroke-width="0.6"/>
<text x="0" y="0" font-size="5.83" text-anchor="middle" fill="#000" stroke-width="0.13" transform="translate(294.8,361.5) scale(0.9091,1)" >0.2</text>
<line x1="333.2" y1="354.5" x2="333.2" y2="355.8" stroke="#9a9a9a" stroke-width="0.6"/>
<text x="0" y="0" font-size="5.83" text-anchor="middle" fill="#000" stroke-width="0.13" transform="translate(333.2,361.5) scale(0.9091,1)" >0.4</text>
<line x1="371.6" y1="354.5" x2="371.6" y2="355.8" stroke="#9a9a9a" stroke-width="0.6"/>
<text x="0" y="0" font-size="5.83" text-anchor="middle" fill="#000" stroke-width="0.13" transform="translate(371.6,361.5) scale(0.9091,1)" >0.6</text>
<line x1="410" y1="354.5" x2="410" y2="355.8" stroke="#9a9a9a" stroke-width="0.6"/>
<text x="0" y="0" font-size="5.83" text-anchor="middle" fill="#000" stroke-width="0.13" transform="translate(410,361.5) scale(0.9091,1)" >0.8</text>
<line x1="448.4" y1="354.5" x2="448.4" y2="355.8" stroke="#9a9a9a" stroke-width="0.6"/>
<text x="0" y="0" font-size="5.83" text-anchor="middle" fill="#000" stroke-width="0.13" transform="translate(448.4,361.5) scale(0.9091,1)" >1.0</text>
<line x1="255.1" y1="340.12" x2="256.4" y2="340.12" stroke="#9a9a9a" stroke-width="0.6"/>
<text x="0" y="0" font-size="5.94" text-anchor="end" fill="#000" stroke-width="0.13" transform="translate(253.8,342.18) scale(0.9091,1)" >-0.1</text>
<line x1="255.1" y1="311.2" x2="256.4" y2="311.2" stroke="#9a9a9a" stroke-width="0.6"/>
<text x="0" y="0" font-size="5.94" text-anchor="end" fill="#000" stroke-width="0.13" transform="translate(253.8,313.25) scale(0.9091,1)" >0.0</text>
<line x1="255.1" y1="282.27" x2="256.4" y2="282.27" stroke="#9a9a9a" stroke-width="0.6"/>
<text x="0" y="0" font-size="5.94" text-anchor="end" fill="#000" stroke-width="0.13" transform="translate(253.8,284.32) scale(0.9091,1)" >0.1</text>
<line x1="255.1" y1="253.35" x2="256.4" y2="253.35" stroke="#9a9a9a" stroke-width="0.6"/>
<text x="0" y="0" font-size="5.94" text-anchor="end" fill="#000" stroke-width="0.13" transform="translate(253.8,255.4) scale(0.9091,1)" >0.2</text>
<line x1="255.1" y1="224.43" x2="256.4" y2="224.43" stroke="#9a9a9a" stroke-width="0.6"/>
<text x="0" y="0" font-size="5.94" text-anchor="end" fill="#000" stroke-width="0.13" transform="translate(253.8,226.48) scale(0.9091,1)" >0.3</text>
<text x="0" y="0" font-size="7.76" text-anchor="middle" fill="#000" stroke-width="0.14" transform="translate(352.5,201.6) scale(0.9091,1)" >DCA</text>
<text x="0" y="0" font-size="7.84" text-anchor="middle" fill="#000" stroke-width="0.14" transform="translate(355.1,369.2) scale(0.8929,1)" >Threshold Probability</text>
<text x="0" y="0" font-size="7.9" text-anchor="middle" fill="#000" stroke-width="0.14" transform="translate(241.8,294.9) rotate(-90) scale(0.8929,1)" >Net Benefit</text>
<text x="0" y="0" font-size="9.2" text-anchor="middle" fill="#000" stroke-width="0.14" transform="translate(354.6,377.7)" >E</text>
<rect x="401.3" y="208.4" width="45.2" height="48.6" rx="1.2" fill="#fff" fill-opacity="0.85" stroke="#dcdcdc" stroke-width="0.6"/>
<line x1="403.2" y1="212.3" x2="414.2" y2="212.3" stroke="#1f77b4" stroke-width="0.9" />
<text x="0" y="0" font-size="5.89" text-anchor="start" fill="#000" stroke-width="0.13" transform="translate(417.8,214.3) scale(0.9259,1)" >Rad</text>
<line x1="403.2" y1="220.3" x2="414.2" y2="220.3" stroke="#ff7f0e" stroke-width="0.9" />
<text x="0" y="0" font-size="5.89" text-anchor="start" fill="#000" stroke-width="0.13" transform="translate(417.8,222.3) scale(0.9259,1)" >DTL</text>
<line x1="403.2" y1="228.3" x2="414.2" y2="228.3" stroke="#2ca02c" stroke-width="0.9" />
<text x="0" y="0" font-size="5.89" text-anchor="start" fill="#000" stroke-width="0.13" transform="translate(417.8,230.3) scale(0.9259,1)" >Stacking</text>
<line x1="403.2" y1="236.3" x2="414.2" y2="236.3" stroke="#d62728" stroke-width="0.9" />
<text x="0" y="0" font-size="5.89" text-anchor="start" fill="#000" stroke-width="0.13" transform="translate(417.8,238.3) scale(0.9259,1)" >Ensemble</text>
<line x1="403.2" y1="244.3" x2="414.2" y2="244.3" stroke="#222" stroke-width="0.9" />
<text x="0" y="0" font-size="5.89" text-anchor="start" fill="#000" stroke-width="0.13" transform="translate(417.8,246.3) scale(0.9259,1)" >Treat all</text>
<line x1="403.2" y1="252.3" x2="414.2" y2="252.3" stroke="#888" stroke-width="0.9" stroke-dasharray="2.8 0.9"/>
<text x="0" y="0" font-size="5.89" text-anchor="start" fill="#000" stroke-width="0.13" transform="translate(417.8,254.3) scale(0.9259,1)" >Treat none</text>
</g>
<g>
<clipPath id="cF"><rect x="488.9" y="205.5" width="192" height="149"/></clipPath>
<line x1="488.9" y1="205.5" x2="488.9" y2="354.5" stroke="#dfdfdf" stroke-width="0.8"/>
<line x1="527.3" y1="205.5" x2="527.3" y2="354.5" stroke="#dfdfdf" stroke-width="0.8"/>
<line x1="565.7" y1="205.5" x2="565.7" y2="354.5" stroke="#dfdfdf" stroke-width="0.8"/>
<line x1="604.1" y1="205.5" x2="604.1" y2="354.5" stroke="#dfdfdf" stroke-width="0.8"/>
<line x1="642.5" y1="205.5" x2="642.5" y2="354.5" stroke="#dfdfdf" stroke-width="0.8"/>
<line x1="680.9" y1="205.5" x2="680.9" y2="354.5" stroke="#dfdfdf" stroke-width="0.8"/>
<line x1="488.9" y1="343.15" x2="680.9" y2="343.15" stroke="#dfdfdf" stroke-width="0.8"/>
<line x1="488.9" y1="320.7" x2="680.9" y2="320.7" stroke="#dfdfdf" stroke-width="0.8"/>
<line x1="488.9" y1="298.25" x2="680.9" y2="298.25" stroke="#dfdfdf" stroke-width="0.8"/>
<line x1="488.9" y1="275.8" x2="680.9" y2="275.8" stroke="#dfdfdf" stroke-width="0.8"/>
<line x1="488.9" y1="253.35" x2="680.9" y2="253.35" stroke="#dfdfdf" stroke-width="0.8"/>
<line x1="488.9" y1="230.9" x2="680.9" y2="230.9" stroke="#dfdfdf" stroke-width="0.8"/>
<line x1="488.9" y1="208.45" x2="680.9" y2="208.45" stroke="#dfdfdf" stroke-width="0.8"/>
<path d="M488.9,205.5 L680.9,205.5 L680.9,354.5" fill="none" stroke="#e6e6e6" stroke-width="0.8"/>
<g clip-path="url(#cF)">
<path d="M520.8,267.2 L528,275.5 L535,284 L539.2,289.8 L544.5,276.7 L547.1,288.4 L548.2,294.7 L550.8,295.8 L552.9,291.6 L554.6,290.8 L557.4,288.9 L559.2,283.4 L560.1,278.8 L562,282 L564.3,279.7 L565.2,279.3 L568.4,279.3 L572.1,281.1 L573.5,281.6 L574.4,292.6 L575.5,305.5 L580.3,306 L583.4,307.1 L585.8,315.8 L589,316.6 L593.7,321.3 L602.4,322.1 L607.4,323.6 L609.7,328.5 L611.8,321.1" fill="none" stroke="#1f77b4" stroke-width="0.78" stroke-linejoin="round" />
<path d="M520.8,267.2 L535,281.1 L539.2,286.3 L543.4,292.1 L548.7,295.8 L550.5,297.2 L552.8,292.6 L556.4,294.5 L558.7,293.5 L560.1,289.9 L561.5,285.7 L562.9,288 L564.4,288.9 L565.2,320.7 L680.9,320.7" fill="none" stroke="#ff7f0e" stroke-width="0.78" stroke-linejoin="round" />
<path d="M520.8,267.2 L527,272.3 L532.9,277.6 L538.7,279.6 L544.2,276.5 L546.6,273 L549.7,271.3 L552.3,268.2 L553.7,271.9 L555.5,273.7 L557.8,274.7 L559.2,278.8 L560.1,287.1 L561.5,290.8 L563.4,289.9 L565.7,290.8 L568.4,288 L572.1,288.5 L574.4,293.5 L576.7,295.4 L578.7,295.3 L580.3,300 L582.6,306.3 L585.8,306.3 L589,311.8 L592.9,312.6 L595.3,316.6 L600.8,317.4 L602.5,318.6 L603.7,323 L606.8,323 L608.1,321.1 L611.1,320.5" fill="none" stroke="#2ca02c" stroke-width="0.78" stroke-linejoin="round" />
<path d="M520.8,267.2 L528,273.5 L535,280 L541.3,287.4 L545.5,290.5 L549.7,293.7 L552.8,291.2 L555.5,291.7 L557.4,289.9 L559.2,277.9 L559.9,275.6 L560.9,279.7 L562,282 L563.4,277.9 L564.3,283.4 L565.2,291.7 L567,300 L568.4,299.2 L570.8,301.6 L573.2,310.3 L575.5,312.6 L578.7,320.7 L680.9,320.7" fill="none" stroke="#d62728" stroke-width="0.78" stroke-linejoin="round" />
<path d="M488.9,239.43 L489.86,240.15 L490.82,240.88 L491.78,241.61 L492.74,242.35 L493.7,243.1 L494.65,243.86 L495.61,244.62 L496.57,245.39 L497.53,246.17 L498.49,246.96 L499.45,247.76 L500.41,248.56 L501.37,249.38 L502.33,250.2 L503.29,251.03 L504.24,251.87 L505.2,252.72 L506.16,253.58 L507.12,254.45 L508.08,255.33 L509.04,256.22 L510,257.11 L510.96,258.02 L511.92,258.94 L512.88,259.87 L513.84,260.81 L514.79,261.76 L515.75,262.72 L516.71,263.69 L517.67,264.68 L518.63,265.67 L519.59,266.68 L520.55,267.7 L521.51,268.73 L522.47,269.78 L523.43,270.83 L524.38,271.9 L525.34,272.99 L526.3,274.08 L527.26,275.19 L528.22,276.32 L529.18,277.46 L530.14,278.61 L531.1,279.78 L532.06,280.96 L533.02,282.16 L533.97,283.37 L534.93,284.6 L535.89,285.85 L536.85,287.11 L537.81,288.39 L538.77,289.69 L539.73,291 L540.69,292.33 L541.65,293.69 L542.61,295.05 L543.57,296.44 L544.52,297.85 L545.48,299.28 L546.44,300.73 L547.4,302.2 L548.36,303.69 L549.32,305.2 L550.28,306.73 L551.24,308.29 L552.2,309.87 L553.16,311.48 L554.11,313.1 L555.07,314.76 L556.03,316.44 L556.99,318.14 L557.95,319.87 L558.91,321.63 L559.87,323.42 L560.83,325.23 L561.79,327.08 L562.75,328.95 L563.71,330.85 L564.66,332.79 L565.62,334.76 L566.58,336.76 L567.54,338.8 L568.5,340.87 L569.46,342.97 L570.42,345.11 L571.38,347.29 L572.34,349.51 L573.3,351.77 L574.25,354.07 L575.21,356.41 L576.17,358.79" fill="none" stroke="#222" stroke-width="0.9" stroke-linejoin="round" />
<line x1="488.9" y1="320.7" x2="680.9" y2="320.7" stroke="#666" stroke-width="0.7" stroke-dasharray="2.8 0.9"/>
</g>
<path d="M488.9,205.5 L488.9,354.5 L680.9,354.5" fill="none" stroke="#9a9a9a" stroke-width="0.9"/>
<line x1="488.9" y1="354.5" x2="488.9" y2="355.8" stroke="#9a9a9a" stroke-width="0.6"/>
<text x="0" y="0" font-size="5.83" text-anchor="middle" fill="#000" stroke-width="0.13" transform="translate(488.9,361.5) scale(0.9091,1)" >0.0</text>
<line x1="527.3" y1="354.5" x2="527.3" y2="355.8" stroke="#9a9a9a" stroke-width="0.6"/>
<text x="0" y="0" font-size="5.83" text-anchor="middle" fill="#000" stroke-width="0.13" transform="translate(527.3,361.5) scale(0.9091,1)" >0.2</text>
<line x1="565.7" y1="354.5" x2="565.7" y2="355.8" stroke="#9a9a9a" stroke-width="0.6"/>
<text x="0" y="0" font-size="5.83" text-anchor="middle" fill="#000" stroke-width="0.13" transform="translate(565.7,361.5) scale(0.9091,1)" >0.4</text>
<line x1="604.1" y1="354.5" x2="604.1" y2="355.8" stroke="#9a9a9a" stroke-width="0.6"/>
<text x="0" y="0" font-size="5.83" text-anchor="middle" fill="#000" stroke-width="0.13" transform="translate(604.1,361.5) scale(0.9091,1)" >0.6</text>
<line x1="642.5" y1="354.5" x2="642.5" y2="355.8" stroke="#9a9a9a" stroke-width="0.6"/>
<text x="0" y="0" font-size="5.83" text-anchor="middle" fill="#000" stroke-width="0.13" transform="translate(642.5,361.5) scale(0.9091,1)" >0.8</text>
<line x1="680.9" y1="354.5" x2="680.9" y2="355.8" stroke="#9a9a9a" stroke-width="0.6"/>
<text x="0" y="0" font-size="5.83" text-anchor="middle" fill="#000" stroke-width="0.13" transform="translate(680.9,361.5) scale(0.9091,1)" >1.0</text>
<line x1="487.6" y1="343.15" x2="488.9" y2="343.15" stroke="#9a9a9a" stroke-width="0.6"/>
<text x="0" y="0" font-size="5.94" text-anchor="end" fill="#000" stroke-width="0.13" transform="translate(486.3,345.2) scale(0.9091,1)" >-0.1</text>
<line x1="487.6" y1="320.7" x2="488.9" y2="320.7" stroke="#9a9a9a" stroke-width="0.6"/>
<text x="0" y="0" font-size="5.94" text-anchor="end" fill="#000" stroke-width="0.13" transform="translate(486.3,322.75) scale(0.9091,1)" >0.0</text>
<line x1="487.6" y1="298.25" x2="488.9" y2="298.25" stroke="#9a9a9a" stroke-width="0.6"/>
<text x="0" y="0" font-size="5.94" text-anchor="end" fill="#000" stroke-width="0.13" transform="translate(486.3,300.3) scale(0.9091,1)" >0.1</text>
<line x1="487.6" y1="275.8" x2="488.9" y2="275.8" stroke="#9a9a9a" stroke-width="0.6"/>
<text x="0" y="0" font-size="5.94" text-anchor="end" fill="#000" stroke-width="0.13" transform="translate(486.3,277.85) scale(0.9091,1)" >0.2</text>
<line x1="487.6" y1="253.35" x2="488.9" y2="253.35" stroke="#9a9a9a" stroke-width="0.6"/>
<text x="0" y="0" font-size="5.94" text-anchor="end" fill="#000" stroke-width="0.13" transform="translate(486.3,255.4) scale(0.9091,1)" >0.3</text>
<line x1="487.6" y1="230.9" x2="488.9" y2="230.9" stroke="#9a9a9a" stroke-width="0.6"/>
<text x="0" y="0" font-size="5.94" text-anchor="end" fill="#000" stroke-width="0.13" transform="translate(486.3,232.95) scale(0.9091,1)" >0.4</text>
<line x1="487.6" y1="208.45" x2="488.9" y2="208.45" stroke="#9a9a9a" stroke-width="0.6"/>
<text x="0" y="0" font-size="5.94" text-anchor="end" fill="#000" stroke-width="0.13" transform="translate(486.3,210.5) scale(0.9091,1)" >0.5</text>
<text x="0" y="0" font-size="7.76" text-anchor="middle" fill="#000" stroke-width="0.14" transform="translate(586.9,201.1) scale(0.9091,1)" >DCA</text>
<text x="0" y="0" font-size="7.84" text-anchor="middle" fill="#000" stroke-width="0.14" transform="translate(588,369.2) scale(0.8929,1)" >Threshold Probability</text>
<text x="0" y="0" font-size="7.9" text-anchor="middle" fill="#000" stroke-width="0.14" transform="translate(474.5,305) rotate(-90) scale(0.8929,1)" >Net Benefit</text>
<text x="0" y="0" font-size="9.2" text-anchor="middle" fill="#000" stroke-width="0.14" transform="translate(587.3,377.7)" >F</text>
<rect x="633.4" y="208.4" width="45.2" height="48.6" rx="1.2" fill="#fff" fill-opacity="0.85" stroke="#dcdcdc" stroke-width="0.6"/>
<line x1="635.3" y1="212.3" x2="646.3" y2="212.3" stroke="#1f77b4" stroke-width="0.9" />
<text x="0" y="0" font-size="5.89" text-anchor="start" fill="#000" stroke-width="0.13" transform="translate(649.9,214.3) scale(0.9259,1)" >Rad</text>
<line x1="635.3" y1="220.3" x2="646.3" y2="220.3" stroke="#ff7f0e" stroke-width="0.9" />
<text x="0" y="0" font-size="5.89" text-anchor="start" fill="#000" stroke-width="0.13" transform="translate(649.9,222.3) scale(0.9259,1)" >DTL</text>
<line x1="635.3" y1="228.3" x2="646.3" y2="228.3" stroke="#2ca02c" stroke-width="0.9" />
<text x="0" y="0" font-size="5.89" text-anchor="start" fill="#000" stroke-width="0.13" transform="translate(649.9,230.3) scale(0.9259,1)" >Stacking</text>
<line x1="635.3" y1="236.3" x2="646.3" y2="236.3" stroke="#d62728" stroke-width="0.9" />
<text x="0" y="0" font-size="5.89" text-anchor="start" fill="#000" stroke-width="0.13" transform="translate(649.9,238.3) scale(0.9259,1)" >Ensemble</text>
<line x1="635.3" y1="244.3" x2="646.3" y2="244.3" stroke="#222" stroke-width="0.9" />
<text x="0" y="0" font-size="5.89" text-anchor="start" fill="#000" stroke-width="0.13" transform="translate(649.9,246.3) scale(0.9259,1)" >Treat all</text>
<line x1="635.3" y1="252.3" x2="646.3" y2="252.3" stroke="#888" stroke-width="0.9" stroke-dasharray="2.8 0.9"/>
<text x="0" y="0" font-size="5.89" text-anchor="start" fill="#000" stroke-width="0.13" transform="translate(649.9,254.3) scale(0.9259,1)" >Treat none</text>
</g>
</svg></body></html>
